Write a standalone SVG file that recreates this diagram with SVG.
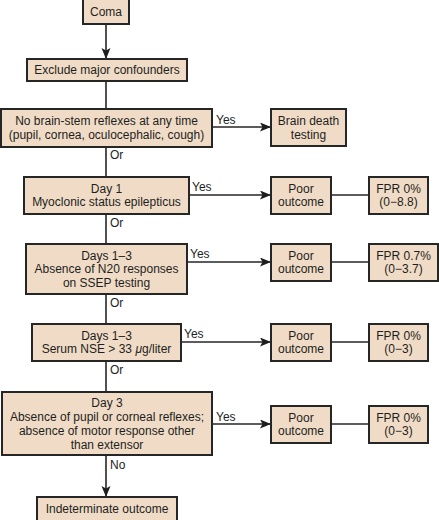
<svg xmlns="http://www.w3.org/2000/svg" width="439" height="520" viewBox="0 0 439 520">
<defs>
<style>
.box{fill:#f0dcc6;stroke:#262626;stroke-width:2}
text{font-family:"Liberation Sans",Arial,sans-serif;font-size:12px;fill:#1e1e1e}
.c{text-anchor:middle}
.ln{stroke:#262626;stroke-width:1.6;fill:none}
</style>
<marker id="ah" markerWidth="12" markerHeight="10" refX="10" refY="4.5" orient="auto" markerUnits="userSpaceOnUse">
<path d="M0,0 L11,4.5 L0,9 L2.5,4.5 z" fill="#1e1e1e"/>
</marker>
</defs>
<rect width="439" height="520" fill="#ffffff"/>

<g id="connectors">
<line class="ln" x1="106" y1="24" x2="106" y2="58" marker-end="url(#ah)"/>
<line class="ln" x1="106" y1="81" x2="106" y2="109"/>
<line class="ln" x1="106" y1="147" x2="106" y2="177"/>
<line class="ln" x1="106" y1="214" x2="106" y2="244"/>
<line class="ln" x1="106" y1="294" x2="106" y2="324"/>
<line class="ln" x1="106" y1="361" x2="106" y2="392"/>
<line class="ln" x1="106" y1="456" x2="106" y2="496" marker-end="url(#ah)"/>
<line class="ln" x1="212" y1="127" x2="270" y2="127" marker-end="url(#ah)"/>
<line class="ln" x1="189" y1="195" x2="270" y2="195" marker-end="url(#ah)"/>
<line class="ln" x1="187" y1="262" x2="270" y2="262" marker-end="url(#ah)"/>
<line class="ln" x1="181" y1="342" x2="270" y2="342" marker-end="url(#ah)"/>
<line class="ln" x1="212" y1="424" x2="270" y2="424" marker-end="url(#ah)"/>
<line class="ln" x1="331" y1="195" x2="369" y2="195"/>
<line class="ln" x1="331" y1="262" x2="369" y2="262"/>
<line class="ln" x1="331" y1="342" x2="369" y2="342"/>
<line class="ln" x1="331" y1="424" x2="369" y2="424"/>
<text x="216" y="124">Yes</text>
<text x="192" y="191">Yes</text>
<text x="190" y="258">Yes</text>
<text x="184" y="338">Yes</text>
<text x="216" y="421">Yes</text>
<text x="110" y="159">Or</text>
<text x="110" y="227">Or</text>
<text x="110" y="307">Or</text>
<text x="110" y="374">Or</text>
<text x="110" y="469">No</text>
</g>

<g id="coma">
<rect class="box" x="83" y="-1" width="46" height="25"/>
<text class="c" x="106" y="16">Coma</text>
</g>
<g id="exclude">
<rect class="box" x="27" y="59" width="160" height="22"/>
<text class="c" x="107" y="74">Exclude major confounders</text>
</g>
<g id="brainstem">
<rect class="box" x="1" y="109" width="211" height="38"/>
<text class="c" x="106.5" y="125">No brain-stem reflexes at any time</text>
<text class="c" x="106.5" y="139">(pupil, cornea, oculocephalic, cough)</text>
</g>
<g id="day1">
<rect class="box" x="24" y="177" width="165" height="37"/>
<text class="c" x="106.5" y="193">Day 1</text>
<text class="c" x="106.5" y="206">Myoclonic status epilepticus</text>
</g>
<g id="n20">
<rect class="box" x="26" y="244" width="161" height="50"/>
<text class="c" x="106.5" y="260">Days 1–3</text>
<text class="c" x="106.5" y="273">Absence of N20 responses</text>
<text class="c" x="106.5" y="287">on SSEP testing</text>
</g>
<g id="nse">
<rect class="box" x="32" y="324" width="149" height="37"/>
<text class="c" x="106.5" y="340">Days 1–3</text>
<text class="c" x="106.5" y="353">Serum NSE &gt; 33 <tspan font-style="italic">μ</tspan>g/liter</text>
</g>
<g id="day3">
<rect class="box" x="2" y="392" width="210" height="63"/>
<text class="c" x="107" y="407">Day 3</text>
<text class="c" x="107" y="421">Absence of pupil or corneal reflexes;</text>
<text class="c" x="107" y="435">absence of motor response other</text>
<text class="c" x="107" y="449">than extensor</text>
</g>
<g id="indeterminate">
<rect class="box" x="37" y="497" width="140" height="25"/>
<text class="c" x="107" y="513">Indeterminate outcome</text>
</g>
<g id="braindeath">
<rect class="box" x="271" y="109" width="75" height="37"/>
<text class="c" x="308.5" y="125">Brain death</text>
<text class="c" x="308.5" y="139">testing</text>
</g>
<g id="poor1">
<rect class="box" x="271" y="177" width="60" height="37"/>
<text class="c" x="301" y="193">Poor</text>
<text class="c" x="301" y="206">outcome</text>
</g>
<g id="fpr1">
<rect class="box" x="369" y="177" width="59" height="37"/>
<text class="c" x="398.5" y="193">FPR 0%</text>
<text class="c" x="398.5" y="206">(0−8.8)</text>
</g>
<g id="poor2">
<rect class="box" x="271" y="244" width="60" height="37"/>
<text class="c" x="301" y="260">Poor</text>
<text class="c" x="301" y="273">outcome</text>
</g>
<g id="fpr2">
<rect class="box" x="369" y="244" width="69" height="37"/>
<text class="c" x="403.5" y="260">FPR 0.7%</text>
<text class="c" x="403.5" y="273">(0−3.7)</text>
</g>
<g id="poor3">
<rect class="box" x="271" y="324" width="60" height="37"/>
<text class="c" x="301" y="340">Poor</text>
<text class="c" x="301" y="353">outcome</text>
</g>
<g id="fpr3">
<rect class="box" x="369" y="324" width="59" height="37"/>
<text class="c" x="398.5" y="340">FPR 0%</text>
<text class="c" x="398.5" y="353">(0−3)</text>
</g>
<g id="poor4">
<rect class="box" x="271" y="406" width="60" height="37"/>
<text class="c" x="301" y="422">Poor</text>
<text class="c" x="301" y="435">outcome</text>
</g>
<g id="fpr4">
<rect class="box" x="369" y="406" width="59" height="37"/>
<text class="c" x="398.5" y="422">FPR 0%</text>
<text class="c" x="398.5" y="435">(0−3)</text>
</g>
</svg>
